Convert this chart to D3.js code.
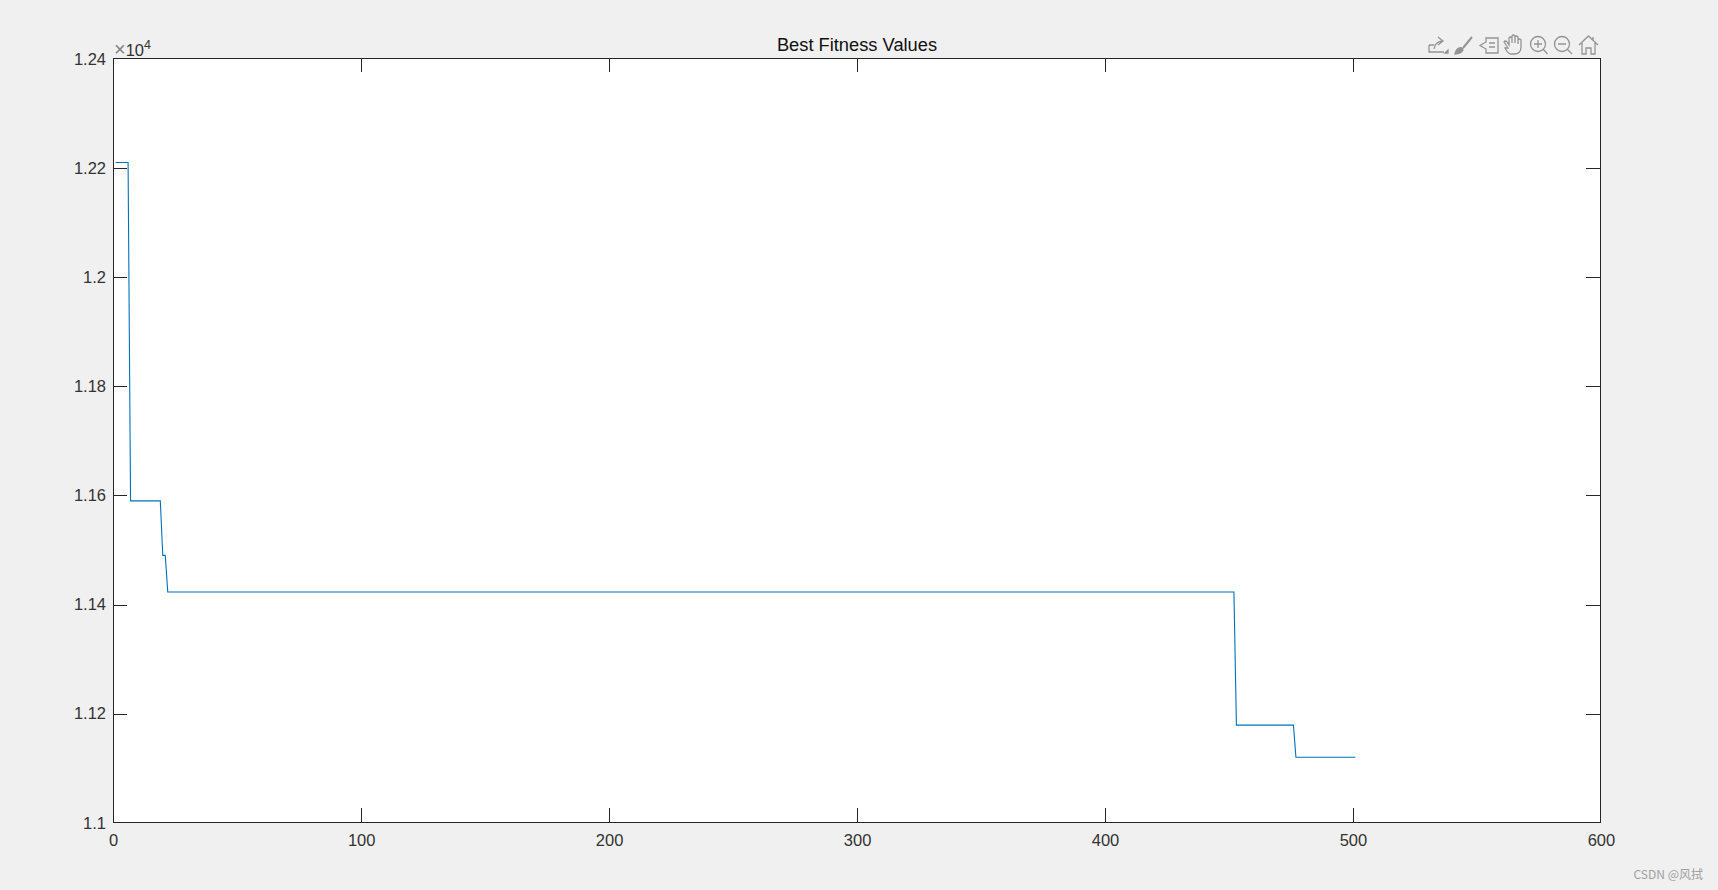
<!doctype html>
<html>
<head>
<meta charset="utf-8">
<title>Best Fitness Values</title>
<script src="https://cdn.jsdelivr.net/npm/d3@7"></script>
<style>
  html, body { margin: 0; padding: 0; background: #f0f0f0; overflow: hidden; }
  svg { display: block; }
  text { font-family: "Liberation Sans", Arial, sans-serif; fill: #333; }
  .tick text { font-size: 16.5px; fill: #333; font-family: "Liberation Sans", Arial, sans-serif; }
  .domain { display: none; }
  .tick line { stroke: #262626; stroke-width: 1; shape-rendering: crispEdges; }
  .tool { fill: none; stroke: #949494; stroke-width: 1.3; }
</style>
</head>
<body>
<svg id="chart" width="1718" height="890"></svg>
<script>
// values (breakpoints of the step curve)
var iterations = [1, 6, 7, 19, 20, 21, 22, 452, 453, 476, 477, 501];
var fitness = [12210, 12210, 11590, 11590, 11490, 11490, 11423, 11423, 11179, 11179, 11120, 11120];

var xTicks = [0, 100, 200, 300, 400, 500, 600];
var yTicks = [11000, 11200, 11400, 11600, 11800, 12000, 12200, 12400];
var yTickLabels = ["1.1", "1.12", "1.14", "1.16", "1.18", "1.2", "1.22", "1.24"];

var svg = d3.select("#chart");

// the frame sits on whole pixels, the scales are a fraction off it like in the original
var x = d3.scaleLinear().domain([0, 600]).range([113.2, 1600.9]);
var y = d3.scaleLinear().domain([11000, 12400]).range([822.8, 58.8]);

var frame = svg.append("rect")
  .attr("x", 113.5).attr("y", 58.5)
  .attr("width", 1487).attr("height", 764)
  .attr("fill", "#fff");

var line = d3.line()
  .x(function(d, i) { return x(iterations[i]); })
  .y(function(d) { return y(d); });

svg.append("path")
  .datum(fitness)
  .attr("d", line)
  .attr("fill", "none")
  .attr("stroke", "#0072bd")
  .attr("stroke-width", 1.1);

// all four sides carry inward ticks, only bottom and left have labels
var tick = 14;
var xAxis = d3.axisBottom(x).tickValues(xTicks).tickSizeInner(-tick).tickSizeOuter(0).tickPadding(12).tickFormat(d3.format("d"));
var xTop = d3.axisTop(x).tickValues(xTicks).tickSizeInner(-tick).tickSizeOuter(0).tickFormat("");
var yAxis = d3.axisLeft(y).tickValues(yTicks).tickSizeInner(-tick).tickSizeOuter(0).tickPadding(7)
  .tickFormat(function(d, i) { return yTickLabels[i]; });
var yRight = d3.axisRight(y).tickValues(yTicks).tickSizeInner(-tick).tickSizeOuter(0).tickFormat("");

svg.append("g").attr("transform", "translate(0,822)").call(xAxis);
svg.append("g").attr("transform", "translate(0,58)").call(xTop);
svg.append("g").attr("transform", "translate(113,0)").call(yAxis);
svg.append("g").attr("transform", "translate(1600,0)").call(yRight);

// end ticks fall on the frame
svg.selectAll(".tick line").filter(function(d) {
  return d === 0 || d === 600 || d === 11000 || d === 12400;
}).remove();

svg.append("rect")
  .attr("x", 113.5).attr("y", 58.5)
  .attr("width", 1487).attr("height", 764)
  .attr("fill", "none")
  .attr("stroke", "#262626");

svg.append("text")
  .attr("x", 857).attr("y", 51)
  .attr("text-anchor", "middle")
  .attr("font-size", 18.3)
  .style("fill", "#111")
  .text("Best Fitness Values");

// axis exponent
var expo = svg.append("text").attr("x", 114).attr("y", 56).attr("font-size", 16.5);
expo.append("tspan").attr("font-size", 20).style("fill", "#808080").text("×");
expo.append("tspan").text("10");
expo.append("tspan").attr("font-size", 12.5).attr("dy", -7).text("4");

// watermark
svg.append("text")
  .attr("x", 1703).attr("y", 879)
  .attr("text-anchor", "end")
  .attr("font-size", 12)
  .style("font-family", '"Noto Sans CJK SC", "Liberation Sans", sans-serif')
  .style("fill", "#a0a0a0")
  .text("CSDN @风拭");

// figure toolbar
var tools = svg.append("g").attr("class", "tool");
tools.append("path").attr("d", "M1429 45 v7 h15 M1429 45 h5 M1434 49 q1 -7 8 -8 M1438 37 l5 4 l-5 4");
tools.append("path").attr("d", "M1445 53 l3 -3 l0 3 z").style("fill", "#949494");
tools.append("path").attr("d", "M1472 37 l-9 11").style("stroke-width", 2);
tools.append("path").attr("d", "M1455 54 q1 -5 4 -6 q4 -1 4 2 q-2 4 -8 4 z").style("fill", "#949494");
tools.append("path").attr("d", "M1486 38 h12 v15 h-12 v-4 l-6 -3.5 l6 -3.5 z M1489 43 h6 M1489 47 h6");
tools.append("path").attr("d", "M1508 48 l-4 -6 q1 -2 3 0 l2 3 v-7 q1 -2 3 0 v5 v-7 q1 -2 3 0 v7 v-6 q1 -2 3 0 v7 v-4 q1 -2 3 0 v7 q0 7 -7 7 h-3 q-3 0 -6 -6 z");
tools.append("circle").attr("cx", 1538).attr("cy", 44).attr("r", 7.5);
tools.append("path").attr("d", "M1543 49 l4.5 5 M1534 44 h8 M1538 40 v8");
tools.append("circle").attr("cx", 1562).attr("cy", 44).attr("r", 7.5);
tools.append("path").attr("d", "M1567 49 l5 5 M1558 44 h8");
tools.append("path").attr("d", "M1579 45 l9.5 -9 l9.5 9 M1582 43 v11 h4 v-6 h5 v6 h4 v-11 M1593 37 v3");
</script>
</body>
</html>
